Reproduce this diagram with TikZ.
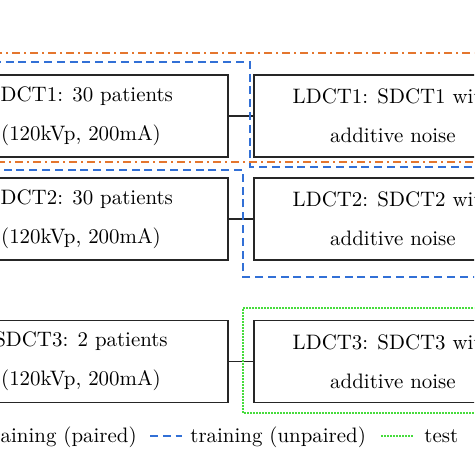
\documentclass[tikz,border=0pt]{standalone}
\begin{document}
\begin{tikzpicture}[x=0.5pt,y=-0.5pt,
  boxnode/.style={draw=black!85,line width=0.75pt,rectangle,inner sep=0pt,minimum height=41pt,align=center,font=\fontsize{10.45}{19.5}\selectfont},
  lbl/.style={inner sep=0pt,anchor=base west,font=\fontsize{10.45}{12}\selectfont},
  link/.style={draw=black!85,line width=0.75pt},
  pairedline/.style={draw={rgb,255:red,228;green,118;blue,46},line width=1pt,dash pattern=on 4pt off 2pt on 1pt off 2pt},
  unpairedline/.style={draw={rgb,255:red,50;green,112;blue,214},line width=1pt,dash pattern=on 4pt off 2.4pt},
  testline/.style={draw={rgb,255:red,70;green,220;blue,60},line width=1pt,dash pattern=on 0.8pt off 0.7pt}]
\useasboundingbox (0,0) rectangle (474,474);
\clip (0,0) rectangle (474,474);
% boxes
\node[boxnode,minimum width=147pt] (s1) at (81,116) {SDCT1: 30 patients\\(120kVp, 200mA)};
\node[boxnode,minimum width=139pt] (l1) at (393,116) {LDCT1: SDCT1 with\\additive noise};
\node[boxnode,minimum width=147pt] (s2) at (81,219) {SDCT2: 30 patients\\(120kVp, 200mA)};
\node[boxnode,minimum width=139pt] (l2) at (393,219) {LDCT2: SDCT2 with\\additive noise};
\node[boxnode,minimum width=147pt] (s3) at (81,361.5) {SDCT3: 2 patients\\(120kVp, 200mA)};
\node[boxnode,minimum width=139pt] (l3) at (393,361.5) {LDCT3: SDCT3 with\\additive noise};
\draw[link] (s1.east) -- (l1.west);
\draw[link] (s2.east) -- (l2.west);
\draw[link] (s3.east) -- (l3.west);
% groups
\draw[pairedline] (-20,53) rectangle (494,162);
\draw[unpairedline] (-20,62) -- (250,62) -- (250,167) -- (494,167) -- (494,277) -- (243,277) -- (243,170) -- (-20,170);
\draw[testline] (494,308) -- (243,308) -- (243,413) -- (494,413);
% legend
\coordinate (pa) at (-62,436); \coordinate (pb) at (-30,436);
\draw[pairedline] (pa) -- (pb);
\node[lbl] (tp) at (-16,442) {training (paired)};
\coordinate (ua) at (150,436); \coordinate (ub) at (182,436);
\draw[unpairedline] (ua) -- (ub);
\node[lbl] (tu) at (190,442) {training (unpaired)};
\coordinate (ta) at (381,436); \coordinate (tb) at (413,436);
\draw[testline] (ta) -- (tb);
\node[lbl] (tt) at (424,442) {test};
\end{tikzpicture}
\end{document}
